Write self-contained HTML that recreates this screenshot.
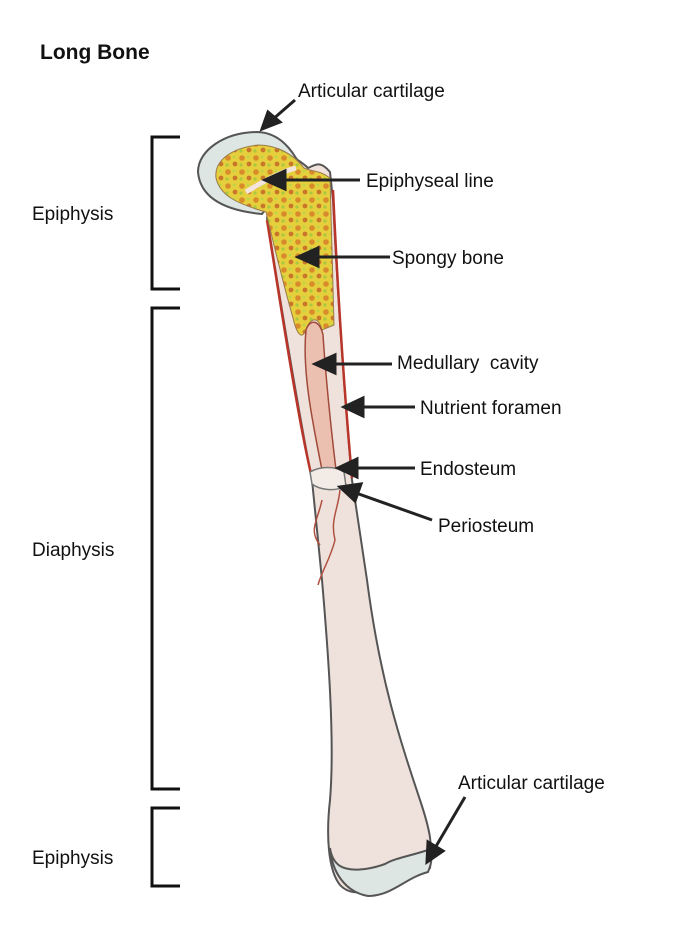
<!DOCTYPE html>
<html><head><meta charset="utf-8"><style>
html,body{margin:0;padding:0;background:#fff}
svg{display:block}
text{font-family:"Liberation Sans",sans-serif;fill:#111}
</style></head><body>
<svg width="680" height="934" viewBox="0 0 680 934" xmlns="http://www.w3.org/2000/svg">
<defs>
<pattern id="sp" width="14" height="14" patternUnits="userSpaceOnUse">
<rect width="14" height="14" fill="#e6cf3c"/>
<circle cx="4" cy="4" r="2.8" fill="#d98a2a"/>
<circle cx="11" cy="10" r="2.4" fill="#c9762a"/>
<circle cx="10" cy="3" r="1.4" fill="#b9d64a"/>
<circle cx="3" cy="11" r="1.6" fill="#a8c83e"/>
</pattern>
</defs>
<text x="40" y="59" font-size="21" font-weight="bold">Long Bone</text>

<g stroke="#111" stroke-width="3" fill="none">
<path d="M180 137 H152 V289 H180"/>
<path d="M180 308 H152 V789 H180"/>
<path d="M180 808 H152 V886 H180"/>
</g>
<text x="32" y="220" font-size="19">Epiphysis</text>
<text x="32" y="556" font-size="19">Diaphysis</text>
<text x="32" y="864" font-size="19">Epiphysis</text>

<!-- bone shaft -->
<path d="M267 218 C280 300 300 420 312 480 L322 580 C328 650 335 740 330 800 C326 835 328 870 340 885 C352 898 375 892 390 880 C405 870 420 875 430 868 C433 845 430 830 420 800 C400 740 380 680 367 580 L352 480 C345 400 338 300 333 200 L330 172 C320 160 315 165 308 168 C300 160 292 158 285 150 Z" fill="#efe2dc" stroke="#555" stroke-width="2"/>
<path d="M330 848 C332 872 345 892 368 896 C392 896 405 878 428 872 C433 860 432 855 428 850 C410 856 395 858 385 864 C368 870 350 872 340 866 C334 862 331 855 330 848 Z" fill="#dde6e2" stroke="#555" stroke-width="2"/>
<path d="M267 220 C280 300 298 420 312 478" fill="none" stroke="#b8352a" stroke-width="2.5"/>
<path d="M333 190 C338 300 345 400 352 478" fill="none" stroke="#b8352a" stroke-width="2.5"/>
<!-- head cartilage -->
<path d="M258 132 C225 132 198 150 198 172 C200 195 220 210 262 214 L300 165 C292 150 280 133 258 132 Z" fill="#dde6e2" stroke="#555" stroke-width="2"/>
<!-- spongy -->
<path d="M258 145 C232 148 214 160 216 178 C220 196 238 204 266 212 C275 250 285 290 293 318 C297 335 302 340 306 330 C310 318 318 315 322 330 L334 325 C333 280 331 220 330 178 C320 170 312 172 304 168 C294 155 278 145 258 145 Z" fill="url(#sp)" stroke="#9a7a4a" stroke-width="1"/>
<path d="M246 192 C262 182 280 172 296 168" fill="none" stroke="#f3e4dc" stroke-width="5"/>
<!-- medullary cavity -->
<path d="M306 330 C302 370 312 420 322 470 L336 470 C330 420 326 380 323 335 C320 320 310 318 306 330 Z" fill="#ecc0b0" stroke="#a04a3a" stroke-width="1.5"/>
<path d="M310 472 C320 466 336 466 344 472 L346 486 C335 492 320 490 312 484 Z" fill="#f3ebe6" stroke="#777" stroke-width="1.5"/>
<path d="M322 500 C318 520 308 530 320 545 M340 490 C338 510 330 520 335 540 C330 560 322 570 318 585" fill="none" stroke="#b05040" stroke-width="1.5"/>

<g stroke="#222" stroke-width="3" fill="#222">
<line x1="295" y1="100" x2="272" y2="120"/>
<polygon points="262,129 268,112 280,122"/>
<line x1="360" y1="180" x2="282" y2="180"/>
<polygon points="265,180 285,171 285,189"/>
<line x1="390" y1="257" x2="315" y2="257"/>
<polygon points="298,257 318,248 318,266"/>
<line x1="392" y1="364" x2="332" y2="364"/>
<polygon points="315,364 335,355 335,373"/>
<line x1="415" y1="407" x2="360" y2="407"/>
<polygon points="344,407 363,398 363,416"/>
<line x1="415" y1="468" x2="354" y2="468"/>
<polygon points="338,468 357,459 357,477"/>
<line x1="432" y1="520" x2="356" y2="493"/>
<polygon points="340,487 361,484 355,501"/>
<line x1="465" y1="797" x2="435" y2="848"/>
<polygon points="427,862 428,842 443,851"/>
</g>

<text x="298" y="97" font-size="19">Articular cartilage</text>
<text x="366" y="187" font-size="19">Epiphyseal line</text>
<text x="392" y="264" font-size="19">Spongy bone</text>
<text x="397" y="369" font-size="19" xml:space="preserve">Medullary  cavity</text>
<text x="420" y="414" font-size="19">Nutrient foramen</text>
<text x="420" y="475" font-size="19">Endosteum</text>
<text x="438" y="532" font-size="19">Periosteum</text>
<text x="458" y="789" font-size="19">Articular cartilage</text>
</svg>
</body></html>
